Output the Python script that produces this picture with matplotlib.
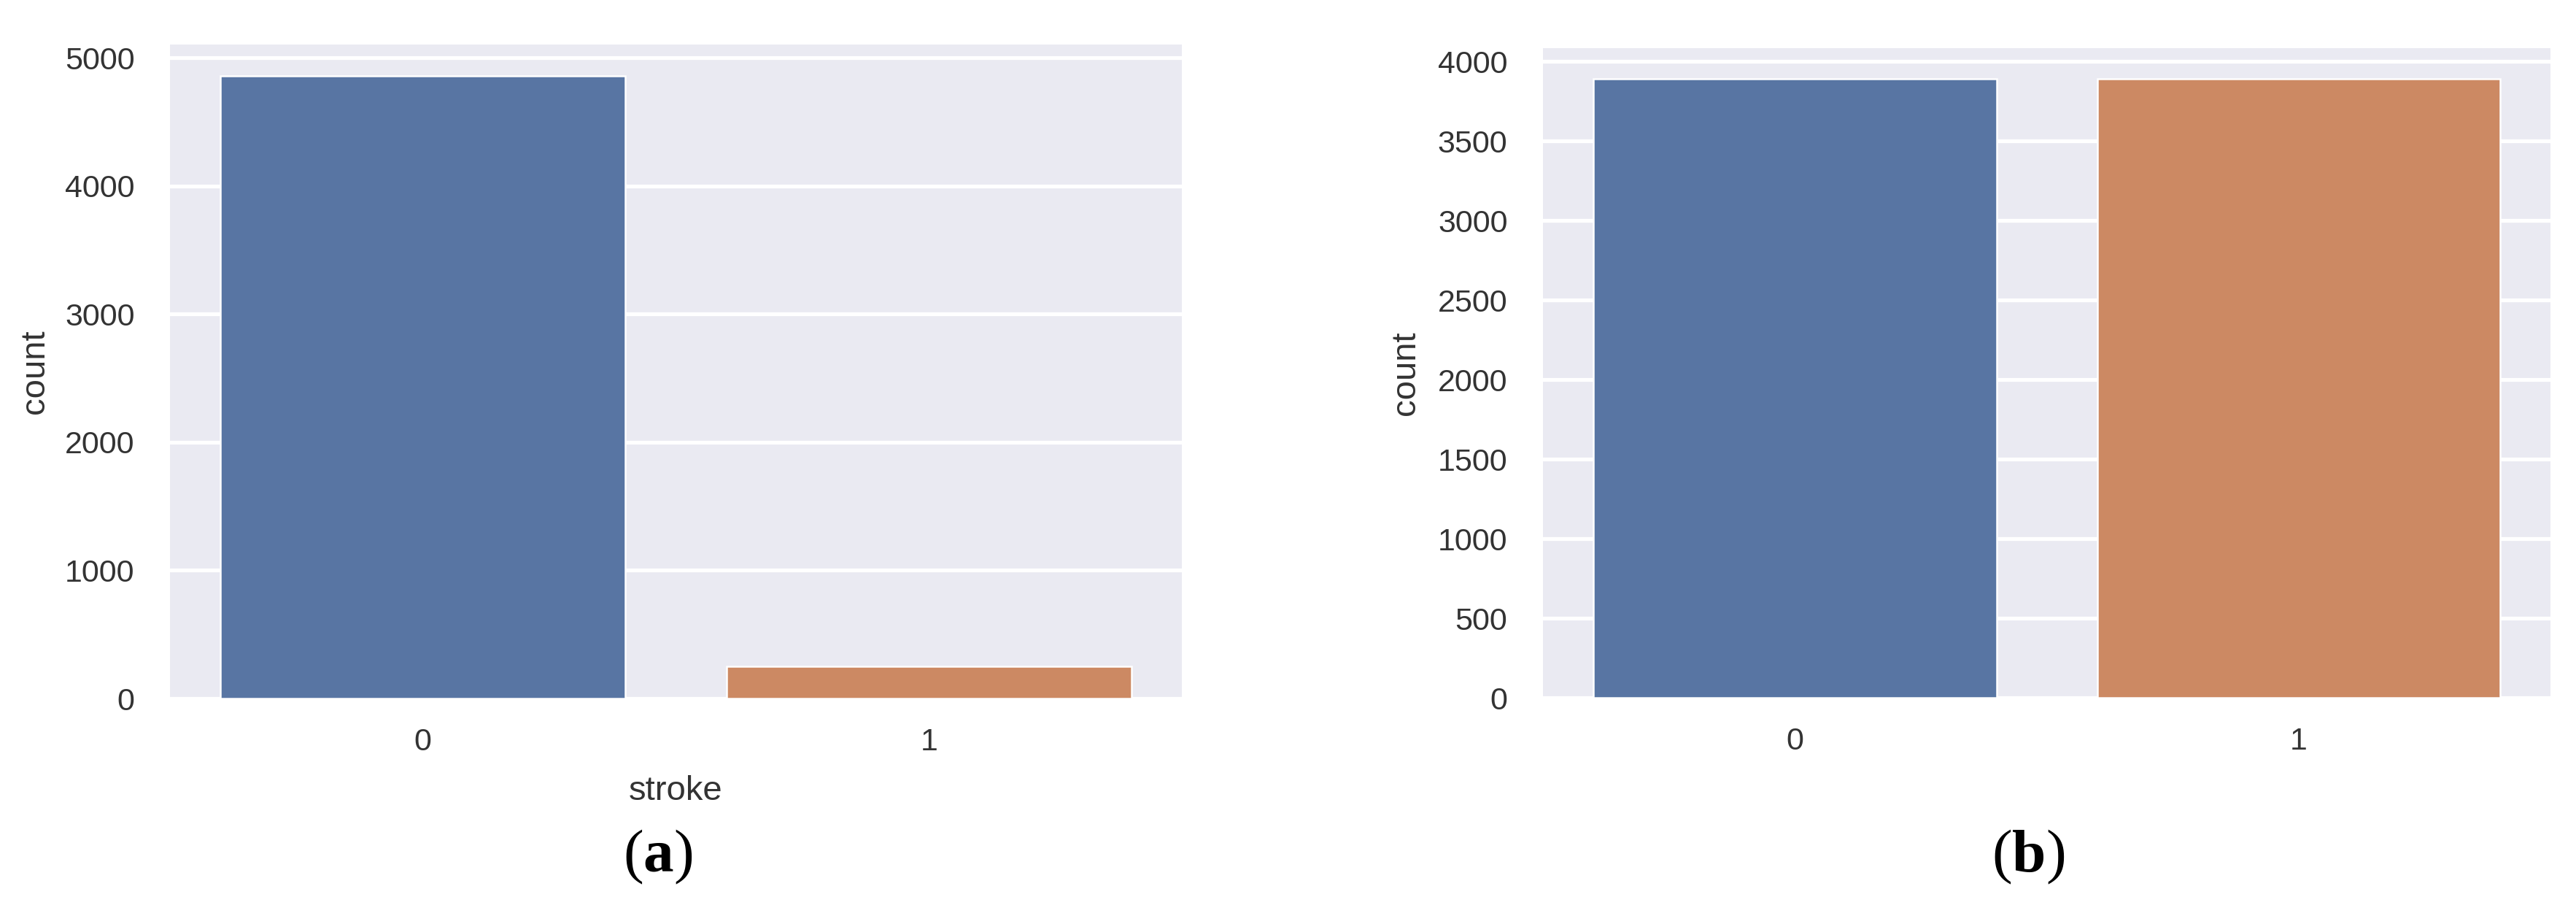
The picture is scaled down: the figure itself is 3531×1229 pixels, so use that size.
import matplotlib
matplotlib.use("Agg")
import matplotlib.pyplot as plt

# class counts before (a) and after (b) balancing
categories = ["0", "1"]
counts_before = [4861, 249]
counts_after = [3889, 3889]
yticks_before = [0, 1000, 2000, 3000, 4000, 5000]
yticks_after = [0, 500, 1000, 1500, 2000, 2500, 3000, 3500, 4000]

bar_colors = ["#5875A3", "#CC8963"]
bg = "#EAEAF2"
txt = "#333333"

plt.rcParams["font.family"] = ["Liberation Sans", "DejaVu Sans"]
plt.rcParams["mathtext.fontset"] = "custom"
plt.rcParams["mathtext.rm"] = "Liberation Serif"
plt.rcParams["mathtext.bf"] = "Liberation Serif:bold"

fig = plt.figure(figsize=(35.31, 12.29), dpi=100)
ax1 = fig.add_axes([0.0660, 0.2213, 0.3928, 0.7290])
ax2 = fig.add_axes([0.5990, 0.2221, 0.3911, 0.7242])


def countplot(ax, values, yticks, xlabel, ylab_x):
    ax.set_facecolor(bg)
    ax.set_axisbelow(True)
    ax.grid(True, axis="y", color="white", linewidth=3.8)
    ax.bar(range(len(categories)), values, width=0.8, color=bar_colors,
           edgecolor="white", linewidth=1.8)
    ax.set_xlim(-0.5, len(categories) - 0.5)
    ax.set_xticks(range(len(categories)))
    ax.set_xticklabels(categories)
    ax.set_yticks(yticks)
    for s in ax.spines.values():
        s.set_visible(False)
    ax.tick_params(axis="y", length=0, pad=35, labelsize=31, labelcolor=txt)
    ax.tick_params(axis="x", length=0, pad=29, labelsize=31, labelcolor=txt)
    ax.set_ylabel("count", fontsize=34, color=txt)
    ax.yaxis.set_label_coords(ylab_x, 0.5)
    if xlabel:
        ax.set_xlabel(xlabel, fontsize=34, color=txt)
        ax.xaxis.set_label_coords(0.5, -0.117)


countplot(ax1, counts_before, yticks_before, "stroke", -0.1175)
countplot(ax2, counts_after, yticks_after, None, -0.120)

fig.text(0.2555, 0.0448, r"$(\mathbf{a})$", ha="center", va="center", fontsize=60)
fig.text(0.7873, 0.0448, r"$(\mathbf{b})$", ha="center", va="center", fontsize=60)

fig.savefig("out.png", dpi=100, facecolor="white")
